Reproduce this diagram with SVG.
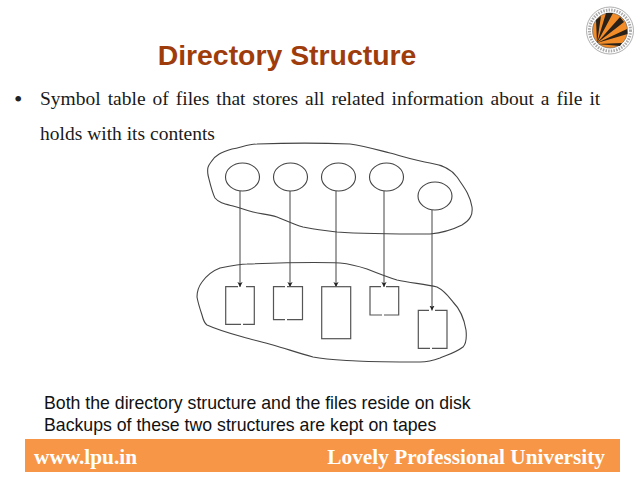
<svg xmlns="http://www.w3.org/2000/svg" width="638" height="478" viewBox="0 0 638 478">
<style>
.sans{font-family:"Liberation Sans",Arial,sans-serif}
.serif{font-family:"Liberation Serif","Times New Roman",serif}
.body{font-size:19.500px;fill:#1a1a1a}
.note{font-size:17.700px;fill:#111}
.foot{font-size:21.300px;font-weight:bold;fill:#fff}
.line{fill:none;stroke:#444;stroke-width:1.1}
.box{fill:none;stroke:#555;stroke-width:1.2}
.conn{fill:none;stroke:#444;stroke-width:1;marker-end:url(#arrow)}
</style>
<defs>
<marker id="arrow" markerUnits="userSpaceOnUse" markerWidth="6" markerHeight="6" refX="5" refY="3" orient="auto"><path d="M0,.4 L5,3 L0,5.6 L1.2,3 Z" fill="#222"/></marker>
</defs>
<rect width="638" height="478" fill="#fff"/>
<g id="logo">
<circle cx="610" cy="30.500" r="23.500" fill="#fff" stroke="#999" stroke-width=".8"/>
<circle cx="610" cy="30.500" r="20.500" fill="none" stroke="#aaa" stroke-width="3" stroke-dasharray="1.500 1.200"/>
<circle cx="610" cy="30.500" r="17.500" fill="#f28c28" stroke="#666" stroke-width=".7"/>
<path d="M597,43 L596,20 L601,16 Z M597,43 L606,13 L613,13 Z M597,43 L620,17 L624,22 Z M597,43 L627,29 L627.500,34 Z M597,44 L622,43 L620,46 Z" fill="#2a2118"/>
</g>
<text class="sans" x="287" y="65" text-anchor="middle" font-size="28.400" font-weight="bold" fill="#9e3c0c">Directory Structure</text>
<text class="serif" x="14" y="107" font-size="24" fill="#222">•</text>
<text class="serif body" x="40" y="105" word-spacing="2.100">Symbol table of files that stores all related information about a file it</text>
<text class="serif body" x="40" y="140">holds with its contents</text>
<g id="connectors">
<path class="conn" d="M240,191 V287"/>
<path class="conn" d="M290,191 V287"/>
<path class="conn" d="M336,191 V287"/>
<path class="conn" d="M384,191 V287"/>
<path class="conn" d="M432,210 V310.500"/>
</g>
<g id="directory-outline">
<path class="line" d="M208,175 C207,168 208,166 211,162 C215,155 222,152 232,149 C242,147 250,144 257,144 C285,143 325,143 350,144 C365,146 378,150 390,153 C405,157 417,161 430,163 C443,165 452,170 457,177 C463,186 470,194 472,207 C473,215 470,220 462,225 C452,230 441,233 430,234 C400,234 365,234 337,232 C322,230 312,229 303,227 C293,224 285,220 277,217 C268,214 260,214 253,212 C245,210 241,208 233,206 C225,204 219,203 215,198 C212,192 210,183 208,175 Z"/>
</g>
<g id="file-outline">
<path class="line" d="M197,297 C197,291 199,286 202,282 C207,275 212,271 220,268 C230,266 240,264 247,264 C275,263 315,262 340,263 C350,264 358,266 367,269 C377,273 387,277 397,280 C410,283 425,284 437,287 C445,291 449,297 453,302 C460,309 464,318 466,330 C467,340 465,345 463,347 C455,353 447,355 440,358 C432,361 428,362 420,362 C400,362 377,362 357,361 C340,360 327,360 313,357 C298,353 287,349 273,345 C263,342 253,340 243,337 C232,334 218,330 207,325 C204,323 203,319 202,315 C200,309 198,303 197,297 Z"/>
</g>
<g id="dir1"><ellipse class="line" cx="242.500" cy="177" rx="17" ry="14"/></g>
<g id="dir2"><ellipse class="line" cx="290.500" cy="177" rx="17" ry="14"/></g>
<g id="dir3"><ellipse class="line" cx="338.500" cy="177" rx="17" ry="14"/></g>
<g id="dir4"><ellipse class="line" cx="386.500" cy="177" rx="17" ry="14"/></g>
<g id="dir5"><ellipse class="line" cx="435" cy="196" rx="17" ry="14"/></g>
<g id="file1"><path class="box" d="M238,286.700 H225.700 V324.300 H241 M243,324.300 H254.300 V286.700 H246"/></g>
<g id="file2"><path class="box" d="M285,286.700 H273.500 V319.700 H285 M287,319.700 H302.500 V286.700 H287"/></g>
<g id="file3"><rect class="box" x="321.700" y="286.700" width="29" height="52"/></g>
<g id="file4"><path class="box" d="M381,286.700 H370 V315 H382 M384,315 H398.700 V286.700 H386"/></g>
<g id="file5"><path class="box" d="M429,310.300 H418.300 V348.300 H430 M432,348.300 H447 V310.300 H435"/></g>
<text class="sans note" x="44" y="408.500">Both the directory structure and the files reside on disk</text>
<text class="sans note" x="44" y="430.500">Backups of these two structures are kept on tapes</text>
<g id="footer">
<rect x="25" y="439" width="595" height="33" fill="#f79646"/>
<text class="serif foot" x="34" y="464">www.lpu.in</text>
<text class="serif foot" x="605" y="464" text-anchor="end">Lovely Professional University</text>
</g>
</svg>
